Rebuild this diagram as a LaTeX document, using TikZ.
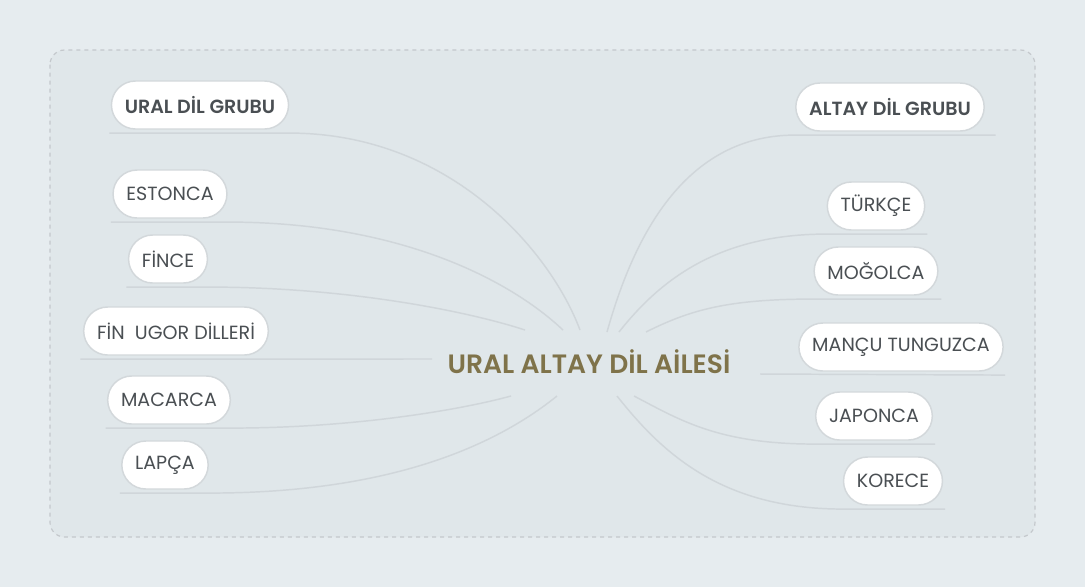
\documentclass[tikz,border=0pt]{standalone}
\usepackage{fontspec}
\setmainfont{Poppins}[BoldFont={Poppins SemiBold}]
\usepackage{tikz}

\definecolor{pagebg}{HTML}{E6ECEF}
\definecolor{areabg}{HTML}{E0E7EA}
\definecolor{areaedge}{HTML}{C4C8CC}
\definecolor{linkgray}{HTML}{D0D6DA}
\definecolor{boxedge}{HTML}{D3D8DB}
\definecolor{txtgray}{HTML}{4A4F53}
\definecolor{olive}{HTML}{7F734A}

\begin{document}
\begin{tikzpicture}[x=0.75pt, y=-0.75pt,
  lang/.style={draw=boxedge, line width=1.1pt, fill=white, rounded corners=18pt,
    minimum height=36pt, inner xsep=10pt, text=txtgray, font=\fontsize{14.3}{16}\selectfont},
  group/.style={lang, font=\fontsize{14.3}{16}\selectfont\bfseries},
  link/.style={draw=linkgray, line width=1.1pt}]
\useasboundingbox (0,0) rectangle (1085,587);
\fill[pagebg] (0,0) rectangle (1085,587);
\draw[areaedge, fill=areabg, dashed, line width=0.9pt, rounded corners=11pt] (50,50) rectangle (1035,537);

\node[text=olive, font=\fontsize{19.9}{22}\selectfont\bfseries] (root) at (589,362) {URAL ALTAY DİL AİLESİ};

% left side
\node[group] (ural) at (200,105) {URAL DİL GRUBU};
\node[lang] (est) at (170,194) {ESTONCA};
\node[lang] (fin) at (168,259) {FİNCE};
\node[lang] (ugor) at (176,331) {FİN\ \ UGOR DİLLERİ};
\node[lang] (mac) at (169,400) {MACARCA};
\node[lang] (lap) at (165,465) {LAPÇA};

% right side
\node[group] (altay) at (890,107) {ALTAY DİL GRUBU};
\node[lang] (tur) at (876,206) {TÜRKÇE};
\node[lang] (mog) at (876,271) {MOĞOLCA};
\node[lang] (man) at (901,347) {MANÇU TUNGUZCA};
\node[lang] (jap) at (874,416) {JAPONCA};
\node[lang] (kor) at (893,481) {KORECE};

% ends near the root
\coordinate (e1) at (580,330);
\coordinate (e2) at (563,330);
\coordinate (e3) at (525,330);
\coordinate (e4) at (432,359);
\coordinate (e5) at (511,396);
\coordinate (e6) at (557,396);
\coordinate (e7) at (607,332);
\coordinate (e8) at (619,332);
\coordinate (e9) at (646,332);
\coordinate (e10) at (760,374);
\coordinate (e11) at (634,396);
\coordinate (e12) at (617,396);

\draw[link] ([shift={(-1pt,-2.5pt)}]ural.south west) -- ([yshift=-2.5pt]ural.south east)
  .. controls +(160,0) and +(-30,-80) .. (e1);
\draw[link] ([shift={(-1pt,-2.5pt)}]est.south west) -- ([yshift=-2.5pt]est.south east)
  .. controls +(172,0) and +(-53,-50) .. (e2);
\draw[link] ([shift={(-1pt,-2.5pt)}]fin.south west) -- ([yshift=-2.5pt]fin.south east)
  .. controls +(142,0) and +(-55,-18) .. (e3);
\draw[link] ([shift={(-2pt,-2.5pt)}]ugor.south west) -- (e4);
\draw[link] ([shift={(-1pt,-2.5pt)}]mac.south west) -- ([yshift=-2.5pt]mac.south east)
  .. controls +(122,0) and +(-51,14) .. (e5);
\draw[link] ([shift={(-1pt,-2.5pt)}]lap.south west) -- ([yshift=-2.5pt]lap.south east)
  .. controls +(173,0) and +(-67,54) .. (e6);

\draw[link] ([shift={(8pt,-2.5pt)}]altay.south east) -- ([yshift=-2.5pt]altay.south west)
  .. controls +(-117,0) and +(23,-82) .. (e7);
\draw[link] ([shift={(1.5pt,-2.5pt)}]tur.south east) -- ([yshift=-2.5pt]tur.south west)
  .. controls +(-108,0) and +(41,-52) .. (e8);
\draw[link] ([shift={(2pt,-2.5pt)}]mog.south east) -- ([yshift=-2.5pt]mog.south west)
  .. controls +(-86,0) and +(44,-22) .. (e9);
\draw[link] ([shift={(1pt,-2.5pt)}]man.south east) -- (e10);
\draw[link] ([shift={(1.5pt,-2.5pt)}]jap.south east) -- ([yshift=-2.5pt]jap.south west)
  .. controls +(-97,0) and +(46,24) .. (e11);
\draw[link] ([shift={(1.5pt,-2.5pt)}]kor.south east) -- ([yshift=-2.5pt]kor.south west)
  .. controls +(-124,0) and +(43,54) .. (e12);
\end{tikzpicture}
\end{document}
